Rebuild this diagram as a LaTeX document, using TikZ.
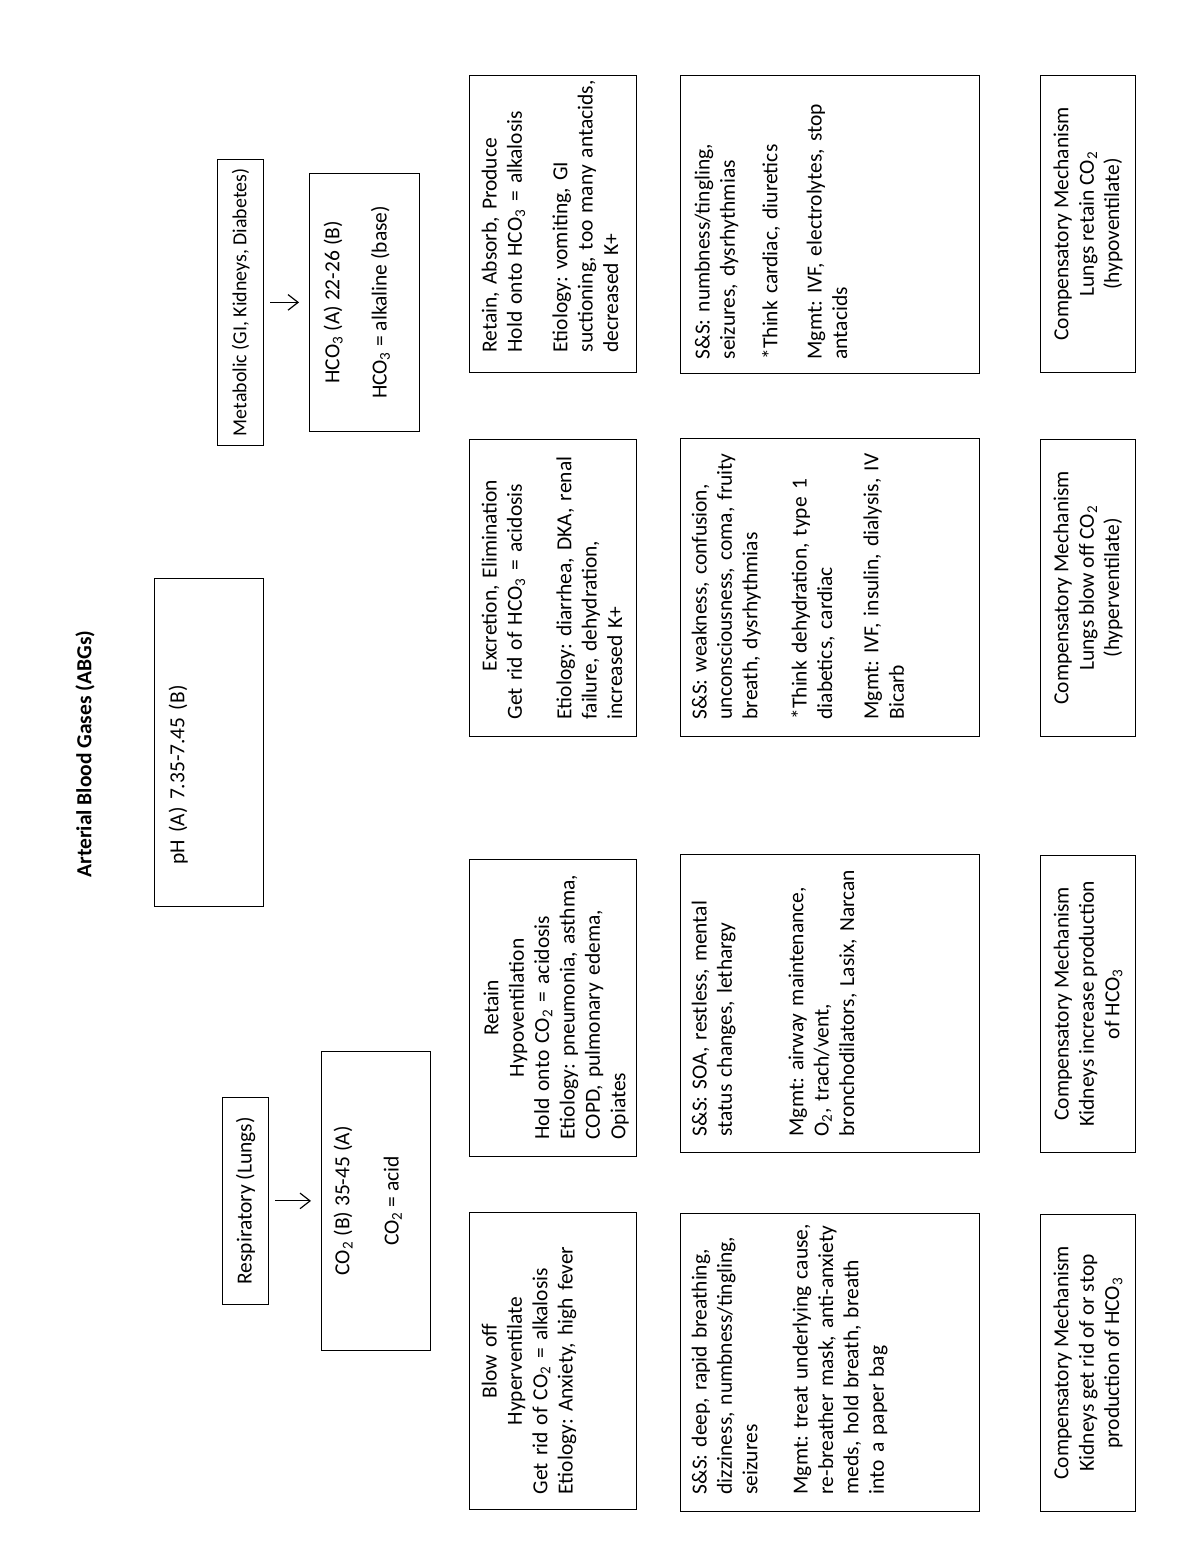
\documentclass[tikz,border=0pt]{standalone}
\usepackage{fontspec}
\setmainfont{Carlito}
\usetikzlibrary{arrows.meta, positioning, calc}
\frenchspacing
\newlength{\pxl}
\setlength{\pxl}{0.18mm}
\newcommand{\ctrline}[2][\linewidth]{\makebox[#1][c]{#2}}
\tikzset{
  every picture/.style={font=\fontsize{11pt}{13pt}\selectfont, line width=0.6pt},
  cell/.style={draw, anchor=north west, inner sep=0pt, align=center},
  body/.style={anchor=north west, align=left, inner sep=0pt, text width=#1},
  body/.default=285\pxl,
  centretext/.style={anchor=north, align=center, inner sep=0pt},
  title/.style={font=\fontsize{11pt}{13pt}\selectfont\bfseries},
  arrow/.style={-{Straight Barb[length=1.8mm, width=2.8mm]}, line width=0.6pt, shorten <=6\pxl, shorten >=10\pxl},
  rowtwo/.style={cell, minimum width=297\pxl, minimum height=167\pxl},
  rowthree/.style={cell, minimum width=298\pxl, minimum height=299\pxl},
  rowfour/.style={cell, minimum width=297\pxl, minimum height=95\pxl},
}
\begin{document}
\begin{tikzpicture}[x=0.18mm, y=-0.18mm]
\begin{scope}[rotate=90, transform shape]
  % the sheet is turned: everything below is in landscape units
  \fill[white] (0,0) rectangle (1553,1200);
  \useasboundingbox (0,0) rectangle (1553,1200);

  \node[title] (title) at (799,85) {Arterial Blood Gases (ABGs)};

  \node[cell, minimum width=328\pxl, minimum height=109\pxl] (phBox) at (646,154) {};
  \node[body] (phTxt) at ($(phBox.north west)+(42,14)$) {pH (A) 7.35-7.45 (B)};

  \node[cell, minimum width=207\pxl, minimum height=46\pxl] (resp) at (248,222) {Respiratory (Lungs)};
  \node[cell, minimum width=299\pxl, minimum height=109\pxl] (co2Box) at (202,321) {};
  \node[centretext] (co2Txt) at ($(co2Box.north)+(0,12)$) {CO\textsubscript{2} (B) 35-45 (A)\\[24\pxl]
    CO\textsubscript{2} = acid};
  \draw[arrow] (resp) -- (co2Box);

  \node[cell, minimum width=286\pxl, minimum height=46\pxl, font=\fontsize{10.2pt}{12pt}\selectfont] (met) at (1107,217) {Metabolic (GI, Kidneys, Diabetes)};
  \node[cell, minimum width=258\pxl, minimum height=110\pxl] (hcoBox) at (1121,309) {};
  \node[centretext] (hcoTxt) at ($(hcoBox.north)+(0,14)$) {HCO\textsubscript{3} (A) 22-26 (B)\\[22\pxl]
    HCO\textsubscript{3} = alkaline (base)};
  \draw[arrow] (met) -- (hcoBox);

  % causes
  \node[rowtwo] (blowBox) at (43,469) {};
  \node[body] (blowTxt) at ($(blowBox.north west)+(15,12)$) {\ctrline[267\pxl]{Blow off}\\
    \ctrline[267\pxl]{Hyperventilate}\\
    Get rid of CO\textsubscript{2} = alkalosis\\
    Etiology: Anxiety, high fever};
  \node[rowtwo] (hypoBox) at (396,469) {};
  \node[body] (hypoTxt) at ($(hypoBox.north west)+(17,14)$) {\ctrline[263\pxl]{Retain}\\
    \ctrline[263\pxl]{Hypoventilation}\\
    Hold onto CO\textsubscript{2} = acidosis\\
    Etiology: pneumonia, asthma,\\
    COPD, pulmonary edema,\\
    Opiates};
  \node[rowtwo] (excBox) at (816,469) {};
  \node[body] (excTxt) at ($(excBox.north west)+(17,12)$) {\hspace*{48\pxl}Excretion, Elimination\\
    Get rid of HCO\textsubscript{3} = acidosis\\[24\pxl]
    Etiology: diarrhea, DKA, renal\\
    failure, dehydration,\\
    increased K+};
  \node[rowtwo] (absBox) at (1180,469) {};
  \node[body] (absTxt) at ($(absBox.north west)+(20,12)$) {Retain, Absorb, Produce\\
    Hold onto HCO\textsubscript{3} = alkalosis\\[20\pxl]
    Etiology: vomiting, GI\\
    suctioning, too many antacids,\\
    decreased K+};

  % signs and care
  \node[rowthree] (deepBox) at (41,680) {};
  \node[body] (deepTxt) at ($(deepBox.north west)+(17,11)$) {S\&S: deep, rapid breathing,\\
    dizziness, numbness/tingling,\\
    seizures\\[25\pxl]
    Mgmt: treat underlying cause,\\
    re-breather mask, anti-anxiety\\
    meds, hold breath, breath\\
    into a paper bag};
  \node[rowthree] (soaBox) at (400,680) {};
  \node[body] (soaTxt) at ($(soaBox.north west)+(16,11)$) {S\&S: SOA, restless, mental\\
    status changes, lethargy\\[46\pxl]
    Mgmt: airway maintenance,\\
    O\textsubscript{2}, trach/vent,\\
    bronchodilators, Lasix, Narcan};
  \node[rowthree] (weakBox) at (816,680) {};
  \node[body] (weakTxt) at ($(weakBox.north west)+(17,11)$) {S\&S: weakness, confusion,\\
    unconsciousness, coma, fruity\\
    breath, dysrhythmias\\[24\pxl]
    *Think dehydration, type 1\\
    diabetics, cardiac\\[21\pxl]
    Mgmt: IVF, insulin, dialysis, IV\\
    Bicarb};
  \node[rowthree] (numbBox) at (1179,680) {};
  \node[body] (numbTxt) at ($(numbBox.north west)+(14,14)$) {S\&S: numbness/tingling,\\
    seizures, dysrhythmias\\[17\pxl]
    *Think cardiac, diuretics\\[19\pxl]
    Mgmt: IVF, electrolytes, stop\\
    antacids};

  % compensation
  \node[rowfour] (kidStop) at (41,1040) {Compensatory Mechanism\\
    Kidneys get rid of or stop\\
    production of HCO\textsubscript{3}};
  \node[rowfour] (kidInc) at (400,1040) {Compensatory Mechanism\\
    Kidneys increase production\\
    of HCO\textsubscript{3}};
  \node[rowfour] (lungBlow) at (816,1040) {Compensatory Mechanism\\
    Lungs blow off CO\textsubscript{2}\\
    (hyperventilate)};
  \node[rowfour] (lungRet) at (1180,1040) {Compensatory Mechanism\\
    Lungs retain CO\textsubscript{2}\\
    (hypoventilate)};
\end{scope}
\end{tikzpicture}
\end{document}
